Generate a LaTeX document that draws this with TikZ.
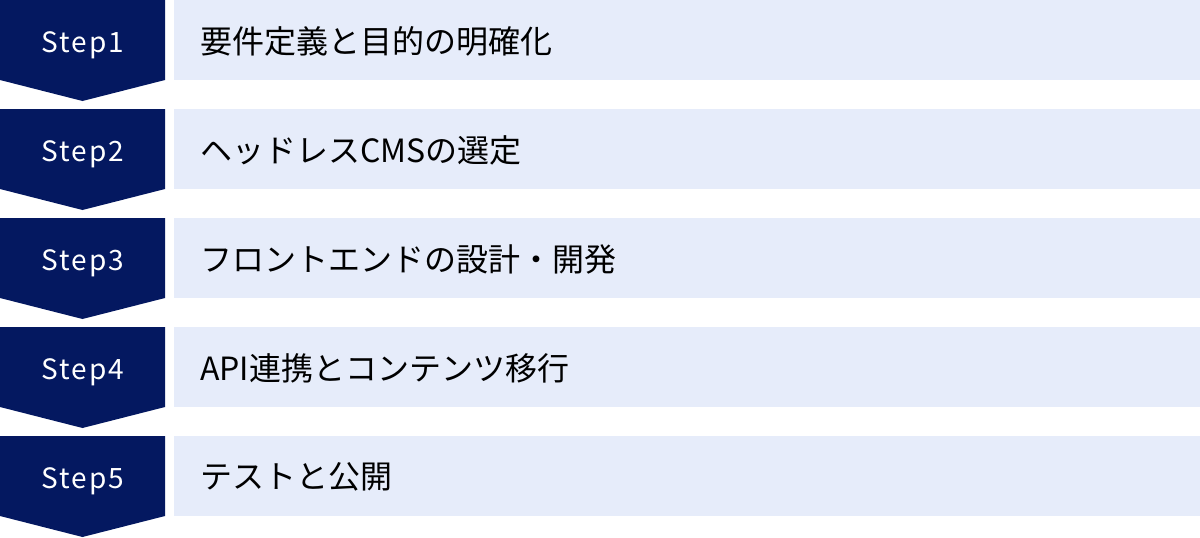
\documentclass[tikz,border=0pt]{standalone}
\usepackage{fontspec}
\newfontfamily\jpfont{Noto Sans CJK JP}
\newfontfamily\stepfont[LetterSpace=7]{Noto Sans CJK JP}
\definecolor{navy}{RGB}{4,24,96}
\definecolor{lightbg}{RGB}{230,236,250}
\tikzset{
  chevron/.style={fill=navy},
  steplabel/.style={text=white, font=\stepfont\fontsize{28}{32}\selectfont, inner sep=0pt, anchor=base},
  barbox/.style={fill=lightbg, draw=none, inner sep=0pt, minimum width=1026pt, minimum height=80pt, anchor=north west},
  bartext/.style={text=black, font=\jpfont\fontsize{32}{38}\selectfont, inner sep=0pt, anchor=west}
}
\begin{document}
\begin{tikzpicture}[x=1pt,y=-1pt]
\useasboundingbox (0,0) rectangle (1200,538);
\foreach \i/\lab in {1/要件定義と目的の明確化, 2/ヘッドレスCMSの選定, 3/フロントエンドの設計・開発, 4/API連携とコンテンツ移行, 5/テストと公開}{
  \pgfmathsetmacro{\t}{(\i-1)*109}
  \fill[chevron] (0,\t) -- (165,\t) -- (165,\t+80) -- (82.5,\t+101) -- (0,\t+80) -- cycle;
  \node[steplabel] (s\i) at (83,\t+52) {Step\i};
  \node[barbox] (b\i) at (174,\t) {};
  \node[bartext] (t\i) at (200,\t+41) {\lab};
}
\end{tikzpicture}
\end{document}
